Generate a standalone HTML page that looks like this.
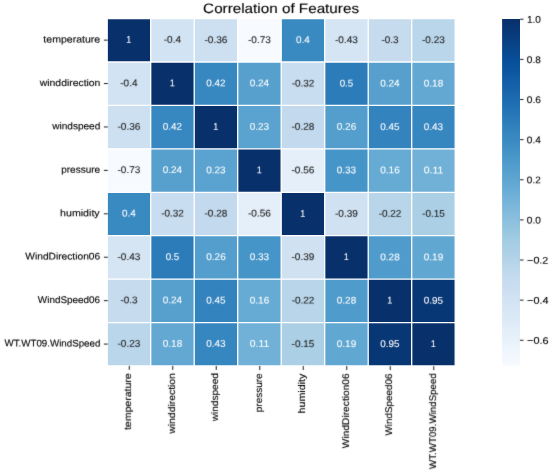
<!DOCTYPE html><html><head><meta charset="utf-8"><style>html,body{margin:0;padding:0;background:#fff;overflow:hidden}svg{display:block}text{font-family:"Liberation Sans",sans-serif;text-rendering:geometricPrecision}</style></head><body>
<svg width="550" height="473" viewBox="0 0 550 473">
<rect width="550" height="473" fill="#fff"/><defs><filter id="gs" x="0" y="0" width="550" height="473" filterUnits="userSpaceOnUse"><feConvolveMatrix order="3" kernelMatrix="0.015 0.07 0.015 0.07 0.66 0.07 0.015 0.07 0.015" edgeMode="duplicate" preserveAlpha="false"/></filter></defs>
<rect x="107.20" y="18.60" width="43.50" height="43.42" fill="#08306b"/>
<rect x="150.70" y="18.60" width="43.50" height="43.42" fill="#d2e3f3"/>
<rect x="194.20" y="18.60" width="43.50" height="43.42" fill="#cde0f1"/>
<rect x="237.70" y="18.60" width="43.50" height="43.42" fill="#f7fbff"/>
<rect x="281.20" y="18.60" width="43.50" height="43.42" fill="#3a8ac2"/>
<rect x="324.70" y="18.60" width="43.50" height="43.42" fill="#d5e5f4"/>
<rect x="368.20" y="18.60" width="43.50" height="43.42" fill="#c7dbef"/>
<rect x="411.70" y="18.60" width="43.50" height="43.42" fill="#bad6eb"/>
<rect x="107.20" y="62.02" width="43.50" height="43.42" fill="#d2e3f3"/>
<rect x="150.70" y="62.02" width="43.50" height="43.42" fill="#08306b"/>
<rect x="194.20" y="62.02" width="43.50" height="43.42" fill="#3787c0"/>
<rect x="237.70" y="62.02" width="43.50" height="43.42" fill="#57a0ce"/>
<rect x="281.20" y="62.02" width="43.50" height="43.42" fill="#c9ddf0"/>
<rect x="324.70" y="62.02" width="43.50" height="43.42" fill="#2c7cba"/>
<rect x="368.20" y="62.02" width="43.50" height="43.42" fill="#57a0ce"/>
<rect x="411.70" y="62.02" width="43.50" height="43.42" fill="#63a8d3"/>
<rect x="107.20" y="105.44" width="43.50" height="43.42" fill="#cde0f1"/>
<rect x="150.70" y="105.44" width="43.50" height="43.42" fill="#3787c0"/>
<rect x="194.20" y="105.44" width="43.50" height="43.42" fill="#08306b"/>
<rect x="237.70" y="105.44" width="43.50" height="43.42" fill="#5aa2cf"/>
<rect x="281.20" y="105.44" width="43.50" height="43.42" fill="#c3daee"/>
<rect x="324.70" y="105.44" width="43.50" height="43.42" fill="#539ecd"/>
<rect x="368.20" y="105.44" width="43.50" height="43.42" fill="#3383be"/>
<rect x="411.70" y="105.44" width="43.50" height="43.42" fill="#3686c0"/>
<rect x="107.20" y="148.86" width="43.50" height="43.42" fill="#f7fbff"/>
<rect x="150.70" y="148.86" width="43.50" height="43.42" fill="#57a0ce"/>
<rect x="194.20" y="148.86" width="43.50" height="43.42" fill="#5aa2cf"/>
<rect x="237.70" y="148.86" width="43.50" height="43.42" fill="#08306b"/>
<rect x="281.20" y="148.86" width="43.50" height="43.42" fill="#e4eff9"/>
<rect x="324.70" y="148.86" width="43.50" height="43.42" fill="#4695c8"/>
<rect x="368.20" y="148.86" width="43.50" height="43.42" fill="#66abd4"/>
<rect x="411.70" y="148.86" width="43.50" height="43.42" fill="#71b1d7"/>
<rect x="107.20" y="192.28" width="43.50" height="43.42" fill="#3a8ac2"/>
<rect x="150.70" y="192.28" width="43.50" height="43.42" fill="#c9ddf0"/>
<rect x="194.20" y="192.28" width="43.50" height="43.42" fill="#c3daee"/>
<rect x="237.70" y="192.28" width="43.50" height="43.42" fill="#e4eff9"/>
<rect x="281.20" y="192.28" width="43.50" height="43.42" fill="#08306b"/>
<rect x="324.70" y="192.28" width="43.50" height="43.42" fill="#d0e2f2"/>
<rect x="368.20" y="192.28" width="43.50" height="43.42" fill="#b8d5ea"/>
<rect x="411.70" y="192.28" width="43.50" height="43.42" fill="#abd0e6"/>
<rect x="107.20" y="235.70" width="43.50" height="43.42" fill="#d5e5f4"/>
<rect x="150.70" y="235.70" width="43.50" height="43.42" fill="#2c7cba"/>
<rect x="194.20" y="235.70" width="43.50" height="43.42" fill="#539ecd"/>
<rect x="237.70" y="235.70" width="43.50" height="43.42" fill="#4695c8"/>
<rect x="281.20" y="235.70" width="43.50" height="43.42" fill="#d0e2f2"/>
<rect x="324.70" y="235.70" width="43.50" height="43.42" fill="#08306b"/>
<rect x="368.20" y="235.70" width="43.50" height="43.42" fill="#4f9bcb"/>
<rect x="411.70" y="235.70" width="43.50" height="43.42" fill="#60a7d2"/>
<rect x="107.20" y="279.12" width="43.50" height="43.42" fill="#c7dbef"/>
<rect x="150.70" y="279.12" width="43.50" height="43.42" fill="#57a0ce"/>
<rect x="194.20" y="279.12" width="43.50" height="43.42" fill="#3383be"/>
<rect x="237.70" y="279.12" width="43.50" height="43.42" fill="#66abd4"/>
<rect x="281.20" y="279.12" width="43.50" height="43.42" fill="#b8d5ea"/>
<rect x="324.70" y="279.12" width="43.50" height="43.42" fill="#4f9bcb"/>
<rect x="368.20" y="279.12" width="43.50" height="43.42" fill="#08306b"/>
<rect x="411.70" y="279.12" width="43.50" height="43.42" fill="#083776"/>
<rect x="107.20" y="322.54" width="43.50" height="43.42" fill="#bad6eb"/>
<rect x="150.70" y="322.54" width="43.50" height="43.42" fill="#63a8d3"/>
<rect x="194.20" y="322.54" width="43.50" height="43.42" fill="#3686c0"/>
<rect x="237.70" y="322.54" width="43.50" height="43.42" fill="#71b1d7"/>
<rect x="281.20" y="322.54" width="43.50" height="43.42" fill="#abd0e6"/>
<rect x="324.70" y="322.54" width="43.50" height="43.42" fill="#60a7d2"/>
<rect x="368.20" y="322.54" width="43.50" height="43.42" fill="#083776"/>
<rect x="411.70" y="322.54" width="43.50" height="43.42" fill="#08306b"/>
<path d="M107.20 18.60V365.96M107.20 18.60H455.20M150.70 18.60V365.96M107.20 62.02H455.20M194.20 18.60V365.96M107.20 105.44H455.20M237.70 18.60V365.96M107.20 148.86H455.20M281.20 18.60V365.96M107.20 192.28H455.20M324.70 18.60V365.96M107.20 235.70H455.20M368.20 18.60V365.96M107.20 279.12H455.20M411.70 18.60V365.96M107.20 322.54H455.20M455.20 18.60V365.96M107.20 365.96H455.20" stroke="#fff" stroke-width="1.3" fill="none"/>
<defs><linearGradient id="cb" x1="0" y1="0" x2="0" y2="1"><stop offset="0.0000" stop-color="#08306b"/><stop offset="0.0156" stop-color="#083370"/><stop offset="0.0312" stop-color="#083776"/><stop offset="0.0469" stop-color="#083b7c"/><stop offset="0.0625" stop-color="#084082"/><stop offset="0.0781" stop-color="#084488"/><stop offset="0.0938" stop-color="#08488e"/><stop offset="0.1094" stop-color="#084c95"/><stop offset="0.1250" stop-color="#08509b"/><stop offset="0.1406" stop-color="#0a549e"/><stop offset="0.1562" stop-color="#0e58a2"/><stop offset="0.1719" stop-color="#115ca5"/><stop offset="0.1875" stop-color="#1460a8"/><stop offset="0.2031" stop-color="#1764ab"/><stop offset="0.2188" stop-color="#1a68ae"/><stop offset="0.2344" stop-color="#1d6cb1"/><stop offset="0.2500" stop-color="#2070b4"/><stop offset="0.2656" stop-color="#2474b7"/><stop offset="0.2812" stop-color="#2979b9"/><stop offset="0.2969" stop-color="#2d7dbb"/><stop offset="0.3125" stop-color="#3181bd"/><stop offset="0.3281" stop-color="#3585bf"/><stop offset="0.3438" stop-color="#3989c1"/><stop offset="0.3594" stop-color="#3d8dc4"/><stop offset="0.3750" stop-color="#4191c6"/><stop offset="0.3906" stop-color="#4695c8"/><stop offset="0.4062" stop-color="#4b98ca"/><stop offset="0.4219" stop-color="#519ccc"/><stop offset="0.4375" stop-color="#56a0ce"/><stop offset="0.4531" stop-color="#5ba3d0"/><stop offset="0.4688" stop-color="#60a7d2"/><stop offset="0.4844" stop-color="#65aad4"/><stop offset="0.5000" stop-color="#6aaed6"/><stop offset="0.5156" stop-color="#71b1d7"/><stop offset="0.5312" stop-color="#77b5d9"/><stop offset="0.5469" stop-color="#7db8da"/><stop offset="0.5625" stop-color="#84bcdb"/><stop offset="0.5781" stop-color="#8abfdd"/><stop offset="0.5938" stop-color="#91c3de"/><stop offset="0.6094" stop-color="#97c6df"/><stop offset="0.6250" stop-color="#9dcae1"/><stop offset="0.6406" stop-color="#a3cce3"/><stop offset="0.6562" stop-color="#a8cee4"/><stop offset="0.6719" stop-color="#add0e6"/><stop offset="0.6875" stop-color="#b2d2e8"/><stop offset="0.7031" stop-color="#b7d4ea"/><stop offset="0.7188" stop-color="#bcd7eb"/><stop offset="0.7344" stop-color="#c1d9ed"/><stop offset="0.7500" stop-color="#c6dbef"/><stop offset="0.7656" stop-color="#c9ddf0"/><stop offset="0.7812" stop-color="#ccdff1"/><stop offset="0.7969" stop-color="#cfe1f2"/><stop offset="0.8125" stop-color="#d2e3f3"/><stop offset="0.8281" stop-color="#d5e5f4"/><stop offset="0.8438" stop-color="#d8e7f5"/><stop offset="0.8594" stop-color="#dbe9f6"/><stop offset="0.8750" stop-color="#deebf7"/><stop offset="0.8906" stop-color="#e1edf8"/><stop offset="0.9062" stop-color="#e4eff9"/><stop offset="0.9219" stop-color="#e7f1fa"/><stop offset="0.9375" stop-color="#eaf3fb"/><stop offset="0.9531" stop-color="#eef5fc"/><stop offset="0.9688" stop-color="#f1f7fd"/><stop offset="0.9844" stop-color="#f4f9fe"/><stop offset="1.0000" stop-color="#f7fbff"/></linearGradient></defs>
<rect x="502.1" y="19.0" width="17.90" height="346.70" fill="url(#cb)"/>
<g filter="url(#gs)"><g transform="matrix(1 0.001 0 1 0 -0.275)">
<text x="126.34" y="42.96" font-size="9.7" fill="#ffffff" stroke="#ffffff" stroke-width="0.08" textLength="4.98" lengthAdjust="spacingAndGlyphs">1</text>
<text x="163.79" y="42.96" font-size="9.7" fill="#262626" stroke="#262626" stroke-width="0.12" textLength="17.15" lengthAdjust="spacingAndGlyphs">-0.4</text>
<text x="204.48" y="42.96" font-size="9.7" fill="#262626" stroke="#262626" stroke-width="0.12" textLength="22.93" lengthAdjust="spacingAndGlyphs">-0.36</text>
<text x="248.06" y="42.96" font-size="9.7" fill="#262626" stroke="#262626" stroke-width="0.12" textLength="22.76" lengthAdjust="spacingAndGlyphs">-0.73</text>
<text x="296.01" y="42.96" font-size="9.7" fill="#ffffff" stroke="#ffffff" stroke-width="0.08" textLength="13.75" lengthAdjust="spacingAndGlyphs">0.4</text>
<text x="335.06" y="42.96" font-size="9.7" fill="#262626" stroke="#262626" stroke-width="0.12" textLength="22.76" lengthAdjust="spacingAndGlyphs">-0.43</text>
<text x="381.41" y="42.96" font-size="9.7" fill="#262626" stroke="#262626" stroke-width="0.12" textLength="17.07" lengthAdjust="spacingAndGlyphs">-0.3</text>
<text x="422.06" y="42.96" font-size="9.7" fill="#262626" stroke="#262626" stroke-width="0.12" textLength="22.76" lengthAdjust="spacingAndGlyphs">-0.23</text>
<text x="120.29" y="86.38" font-size="9.7" fill="#262626" stroke="#262626" stroke-width="0.12" textLength="17.15" lengthAdjust="spacingAndGlyphs">-0.4</text>
<text x="169.84" y="86.38" font-size="9.7" fill="#ffffff" stroke="#ffffff" stroke-width="0.08" textLength="4.98" lengthAdjust="spacingAndGlyphs">1</text>
<text x="206.39" y="86.38" font-size="9.7" fill="#ffffff" stroke="#ffffff" stroke-width="0.08" textLength="19.24" lengthAdjust="spacingAndGlyphs">0.42</text>
<text x="249.68" y="86.38" font-size="9.7" fill="#ffffff" stroke="#ffffff" stroke-width="0.08" textLength="19.42" lengthAdjust="spacingAndGlyphs">0.24</text>
<text x="291.66" y="86.38" font-size="9.7" fill="#262626" stroke="#262626" stroke-width="0.12" textLength="22.66" lengthAdjust="spacingAndGlyphs">-0.32</text>
<text x="339.65" y="86.38" font-size="9.7" fill="#ffffff" stroke="#ffffff" stroke-width="0.08" textLength="13.60" lengthAdjust="spacingAndGlyphs">0.5</text>
<text x="380.18" y="86.38" font-size="9.7" fill="#ffffff" stroke="#ffffff" stroke-width="0.08" textLength="19.42" lengthAdjust="spacingAndGlyphs">0.24</text>
<text x="423.74" y="86.38" font-size="9.7" fill="#ffffff" stroke="#ffffff" stroke-width="0.08" textLength="19.46" lengthAdjust="spacingAndGlyphs">0.18</text>
<text x="117.48" y="129.80" font-size="9.7" fill="#262626" stroke="#262626" stroke-width="0.12" textLength="22.93" lengthAdjust="spacingAndGlyphs">-0.36</text>
<text x="162.89" y="129.80" font-size="9.7" fill="#ffffff" stroke="#ffffff" stroke-width="0.08" textLength="19.24" lengthAdjust="spacingAndGlyphs">0.42</text>
<text x="213.34" y="129.80" font-size="9.7" fill="#ffffff" stroke="#ffffff" stroke-width="0.08" textLength="4.98" lengthAdjust="spacingAndGlyphs">1</text>
<text x="249.80" y="129.80" font-size="9.7" fill="#ffffff" stroke="#ffffff" stroke-width="0.08" textLength="19.35" lengthAdjust="spacingAndGlyphs">0.23</text>
<text x="291.51" y="129.80" font-size="9.7" fill="#262626" stroke="#262626" stroke-width="0.12" textLength="22.88" lengthAdjust="spacingAndGlyphs">-0.28</text>
<text x="336.72" y="129.80" font-size="9.7" fill="#ffffff" stroke="#ffffff" stroke-width="0.08" textLength="19.51" lengthAdjust="spacingAndGlyphs">0.26</text>
<text x="380.32" y="129.80" font-size="9.7" fill="#ffffff" stroke="#ffffff" stroke-width="0.08" textLength="19.27" lengthAdjust="spacingAndGlyphs">0.45</text>
<text x="423.80" y="129.80" font-size="9.7" fill="#ffffff" stroke="#ffffff" stroke-width="0.08" textLength="19.35" lengthAdjust="spacingAndGlyphs">0.43</text>
<text x="117.56" y="173.22" font-size="9.7" fill="#262626" stroke="#262626" stroke-width="0.12" textLength="22.76" lengthAdjust="spacingAndGlyphs">-0.73</text>
<text x="162.68" y="173.22" font-size="9.7" fill="#ffffff" stroke="#ffffff" stroke-width="0.08" textLength="19.42" lengthAdjust="spacingAndGlyphs">0.24</text>
<text x="206.30" y="173.22" font-size="9.7" fill="#ffffff" stroke="#ffffff" stroke-width="0.08" textLength="19.35" lengthAdjust="spacingAndGlyphs">0.23</text>
<text x="256.84" y="173.22" font-size="9.7" fill="#ffffff" stroke="#ffffff" stroke-width="0.08" textLength="4.98" lengthAdjust="spacingAndGlyphs">1</text>
<text x="291.48" y="173.22" font-size="9.7" fill="#262626" stroke="#262626" stroke-width="0.12" textLength="22.93" lengthAdjust="spacingAndGlyphs">-0.56</text>
<text x="336.80" y="173.22" font-size="9.7" fill="#ffffff" stroke="#ffffff" stroke-width="0.08" textLength="19.35" lengthAdjust="spacingAndGlyphs">0.33</text>
<text x="380.22" y="173.22" font-size="9.7" fill="#ffffff" stroke="#ffffff" stroke-width="0.08" textLength="19.51" lengthAdjust="spacingAndGlyphs">0.16</text>
<text x="423.83" y="173.22" font-size="9.7" fill="#ffffff" stroke="#ffffff" stroke-width="0.08" textLength="19.35" lengthAdjust="spacingAndGlyphs">0.11</text>
<text x="122.01" y="216.64" font-size="9.7" fill="#ffffff" stroke="#ffffff" stroke-width="0.08" textLength="13.75" lengthAdjust="spacingAndGlyphs">0.4</text>
<text x="161.16" y="216.64" font-size="9.7" fill="#262626" stroke="#262626" stroke-width="0.12" textLength="22.66" lengthAdjust="spacingAndGlyphs">-0.32</text>
<text x="204.51" y="216.64" font-size="9.7" fill="#262626" stroke="#262626" stroke-width="0.12" textLength="22.88" lengthAdjust="spacingAndGlyphs">-0.28</text>
<text x="247.98" y="216.64" font-size="9.7" fill="#262626" stroke="#262626" stroke-width="0.12" textLength="22.93" lengthAdjust="spacingAndGlyphs">-0.56</text>
<text x="300.34" y="216.64" font-size="9.7" fill="#ffffff" stroke="#ffffff" stroke-width="0.08" textLength="4.98" lengthAdjust="spacingAndGlyphs">1</text>
<text x="335.02" y="216.64" font-size="9.7" fill="#262626" stroke="#262626" stroke-width="0.12" textLength="22.88" lengthAdjust="spacingAndGlyphs">-0.39</text>
<text x="378.66" y="216.64" font-size="9.7" fill="#262626" stroke="#262626" stroke-width="0.12" textLength="22.66" lengthAdjust="spacingAndGlyphs">-0.22</text>
<text x="422.09" y="216.64" font-size="9.7" fill="#262626" stroke="#262626" stroke-width="0.12" textLength="22.69" lengthAdjust="spacingAndGlyphs">-0.15</text>
<text x="117.56" y="260.06" font-size="9.7" fill="#262626" stroke="#262626" stroke-width="0.12" textLength="22.76" lengthAdjust="spacingAndGlyphs">-0.43</text>
<text x="165.65" y="260.06" font-size="9.7" fill="#ffffff" stroke="#ffffff" stroke-width="0.08" textLength="13.60" lengthAdjust="spacingAndGlyphs">0.5</text>
<text x="206.22" y="260.06" font-size="9.7" fill="#ffffff" stroke="#ffffff" stroke-width="0.08" textLength="19.51" lengthAdjust="spacingAndGlyphs">0.26</text>
<text x="249.80" y="260.06" font-size="9.7" fill="#ffffff" stroke="#ffffff" stroke-width="0.08" textLength="19.35" lengthAdjust="spacingAndGlyphs">0.33</text>
<text x="291.52" y="260.06" font-size="9.7" fill="#262626" stroke="#262626" stroke-width="0.12" textLength="22.88" lengthAdjust="spacingAndGlyphs">-0.39</text>
<text x="343.84" y="260.06" font-size="9.7" fill="#ffffff" stroke="#ffffff" stroke-width="0.08" textLength="4.98" lengthAdjust="spacingAndGlyphs">1</text>
<text x="380.24" y="260.06" font-size="9.7" fill="#ffffff" stroke="#ffffff" stroke-width="0.08" textLength="19.46" lengthAdjust="spacingAndGlyphs">0.28</text>
<text x="423.75" y="260.06" font-size="9.7" fill="#ffffff" stroke="#ffffff" stroke-width="0.08" textLength="19.46" lengthAdjust="spacingAndGlyphs">0.19</text>
<text x="120.41" y="303.48" font-size="9.7" fill="#262626" stroke="#262626" stroke-width="0.12" textLength="17.07" lengthAdjust="spacingAndGlyphs">-0.3</text>
<text x="162.68" y="303.48" font-size="9.7" fill="#ffffff" stroke="#ffffff" stroke-width="0.08" textLength="19.42" lengthAdjust="spacingAndGlyphs">0.24</text>
<text x="206.32" y="303.48" font-size="9.7" fill="#ffffff" stroke="#ffffff" stroke-width="0.08" textLength="19.27" lengthAdjust="spacingAndGlyphs">0.45</text>
<text x="249.72" y="303.48" font-size="9.7" fill="#ffffff" stroke="#ffffff" stroke-width="0.08" textLength="19.51" lengthAdjust="spacingAndGlyphs">0.16</text>
<text x="291.66" y="303.48" font-size="9.7" fill="#262626" stroke="#262626" stroke-width="0.12" textLength="22.66" lengthAdjust="spacingAndGlyphs">-0.22</text>
<text x="336.74" y="303.48" font-size="9.7" fill="#ffffff" stroke="#ffffff" stroke-width="0.08" textLength="19.46" lengthAdjust="spacingAndGlyphs">0.28</text>
<text x="387.34" y="303.48" font-size="9.7" fill="#ffffff" stroke="#ffffff" stroke-width="0.08" textLength="4.98" lengthAdjust="spacingAndGlyphs">1</text>
<text x="423.82" y="303.48" font-size="9.7" fill="#ffffff" stroke="#ffffff" stroke-width="0.08" textLength="19.27" lengthAdjust="spacingAndGlyphs">0.95</text>
<text x="117.56" y="346.90" font-size="9.7" fill="#262626" stroke="#262626" stroke-width="0.12" textLength="22.76" lengthAdjust="spacingAndGlyphs">-0.23</text>
<text x="162.74" y="346.90" font-size="9.7" fill="#ffffff" stroke="#ffffff" stroke-width="0.08" textLength="19.46" lengthAdjust="spacingAndGlyphs">0.18</text>
<text x="206.30" y="346.90" font-size="9.7" fill="#ffffff" stroke="#ffffff" stroke-width="0.08" textLength="19.35" lengthAdjust="spacingAndGlyphs">0.43</text>
<text x="249.83" y="346.90" font-size="9.7" fill="#ffffff" stroke="#ffffff" stroke-width="0.08" textLength="19.35" lengthAdjust="spacingAndGlyphs">0.11</text>
<text x="291.59" y="346.90" font-size="9.7" fill="#262626" stroke="#262626" stroke-width="0.12" textLength="22.69" lengthAdjust="spacingAndGlyphs">-0.15</text>
<text x="336.75" y="346.90" font-size="9.7" fill="#ffffff" stroke="#ffffff" stroke-width="0.08" textLength="19.46" lengthAdjust="spacingAndGlyphs">0.19</text>
<text x="380.32" y="346.90" font-size="9.7" fill="#ffffff" stroke="#ffffff" stroke-width="0.08" textLength="19.27" lengthAdjust="spacingAndGlyphs">0.95</text>
<text x="430.84" y="346.90" font-size="9.7" fill="#ffffff" stroke="#ffffff" stroke-width="0.08" textLength="4.98" lengthAdjust="spacingAndGlyphs">1</text>
<text x="43.39" y="42.71" font-size="9.7" fill="#000" stroke="#000" stroke-width="0.12" textLength="56.78" lengthAdjust="spacingAndGlyphs">temperature</text>
<text x="39.79" y="86.13" font-size="9.7" fill="#000" stroke="#000" stroke-width="0.12" textLength="60.60" lengthAdjust="spacingAndGlyphs">winddirection</text>
<text x="52.16" y="129.55" font-size="9.7" fill="#000" stroke="#000" stroke-width="0.12" textLength="48.18" lengthAdjust="spacingAndGlyphs">windspeed</text>
<text x="61.24" y="172.97" font-size="9.7" fill="#000" stroke="#000" stroke-width="0.12" textLength="38.89" lengthAdjust="spacingAndGlyphs">pressure</text>
<text x="60.06" y="216.39" font-size="9.7" fill="#000" stroke="#000" stroke-width="0.12" textLength="39.65" lengthAdjust="spacingAndGlyphs">humidity</text>
<text x="25.37" y="259.81" font-size="9.7" fill="#000" stroke="#000" stroke-width="0.12" textLength="74.78" lengthAdjust="spacingAndGlyphs">WindDirection06</text>
<text x="37.88" y="303.23" font-size="9.7" fill="#000" stroke="#000" stroke-width="0.12" textLength="62.24" lengthAdjust="spacingAndGlyphs">WindSpeed06</text>
<text x="4.49" y="346.65" font-size="9.7" fill="#000" stroke="#000" stroke-width="0.12" textLength="95.84" lengthAdjust="spacingAndGlyphs">WT.WT09.WindSpeed</text>
<g transform="translate(131.45,373.80) rotate(-90)"><text x="-56.31" y="0.00" font-size="9.7" fill="#000" stroke="#000" stroke-width="0.12" textLength="56.78" lengthAdjust="spacingAndGlyphs">temperature</text></g>
<g transform="translate(174.95,373.80) rotate(-90)"><text x="-59.91" y="0.00" font-size="9.7" fill="#000" stroke="#000" stroke-width="0.12" textLength="60.60" lengthAdjust="spacingAndGlyphs">winddirection</text></g>
<g transform="translate(218.45,373.80) rotate(-90)"><text x="-47.54" y="0.00" font-size="9.7" fill="#000" stroke="#000" stroke-width="0.12" textLength="48.18" lengthAdjust="spacingAndGlyphs">windspeed</text></g>
<g transform="translate(261.95,373.80) rotate(-90)"><text x="-38.46" y="0.00" font-size="9.7" fill="#000" stroke="#000" stroke-width="0.12" textLength="38.89" lengthAdjust="spacingAndGlyphs">pressure</text></g>
<g transform="translate(305.45,373.80) rotate(-90)"><text x="-39.64" y="0.00" font-size="9.7" fill="#000" stroke="#000" stroke-width="0.12" textLength="39.65" lengthAdjust="spacingAndGlyphs">humidity</text></g>
<g transform="translate(348.95,373.80) rotate(-90)"><text x="-74.33" y="0.00" font-size="9.7" fill="#000" stroke="#000" stroke-width="0.12" textLength="74.78" lengthAdjust="spacingAndGlyphs">WindDirection06</text></g>
<g transform="translate(392.45,373.80) rotate(-90)"><text x="-61.82" y="0.00" font-size="9.7" fill="#000" stroke="#000" stroke-width="0.12" textLength="62.24" lengthAdjust="spacingAndGlyphs">WindSpeed06</text></g>
<g transform="translate(435.95,373.80) rotate(-90)"><text x="-95.21" y="0.00" font-size="9.7" fill="#000" stroke="#000" stroke-width="0.12" textLength="95.84" lengthAdjust="spacingAndGlyphs">WT.WT09.WindSpeed</text></g>
<text x="526.94" y="22.60" font-size="9.7" fill="#000" stroke="#000" stroke-width="0.12" textLength="13.94" lengthAdjust="spacingAndGlyphs">1.0</text>
<text x="526.88" y="62.73" font-size="9.7" fill="#000" stroke="#000" stroke-width="0.12" textLength="14.02" lengthAdjust="spacingAndGlyphs">0.8</text>
<text x="526.88" y="102.85" font-size="9.7" fill="#000" stroke="#000" stroke-width="0.12" textLength="14.07" lengthAdjust="spacingAndGlyphs">0.6</text>
<text x="526.89" y="142.98" font-size="9.7" fill="#000" stroke="#000" stroke-width="0.12" textLength="13.98" lengthAdjust="spacingAndGlyphs">0.4</text>
<text x="526.89" y="183.11" font-size="9.7" fill="#000" stroke="#000" stroke-width="0.12" textLength="13.79" lengthAdjust="spacingAndGlyphs">0.2</text>
<text x="526.89" y="223.24" font-size="9.7" fill="#000" stroke="#000" stroke-width="0.12" textLength="14.00" lengthAdjust="spacingAndGlyphs">0.0</text>
<text x="527.11" y="263.36" font-size="9.7" fill="#000" stroke="#000" stroke-width="0.12" textLength="21.21" lengthAdjust="spacingAndGlyphs">−0.2</text>
<text x="527.11" y="303.49" font-size="9.7" fill="#000" stroke="#000" stroke-width="0.12" textLength="21.38" lengthAdjust="spacingAndGlyphs">−0.4</text>
<text x="527.11" y="343.62" font-size="9.7" fill="#000" stroke="#000" stroke-width="0.12" textLength="21.48" lengthAdjust="spacingAndGlyphs">−0.6</text>
<path d="M103.90 40.31H107.80M103.90 83.73H107.80M103.90 127.15H107.80M103.90 170.57H107.80M103.90 213.99H107.80M103.90 257.41H107.80M103.90 300.83H107.80M103.90 344.25H107.80M129.25 366.00V370.00M172.75 366.00V370.00M216.25 366.00V370.00M259.75 366.00V370.00M303.25 366.00V370.00M346.75 366.00V370.00M390.25 366.00V370.00M433.75 366.00V370.00M520.00 19.00H523.50M520.00 59.13H523.50M520.00 99.25H523.50M520.00 139.38H523.50M520.00 179.51H523.50M520.00 219.64H523.50M520.00 259.76H523.50M520.00 299.89H523.50M520.00 340.02H523.50" stroke="#000" stroke-width="0.9" fill="none"/>
<text x="203.14" y="13.00" font-size="13.6" fill="#000" stroke="#000" stroke-width="0.12" textLength="155.89" lengthAdjust="spacingAndGlyphs">Correlation of Features</text>
</g></g></svg></body></html>
